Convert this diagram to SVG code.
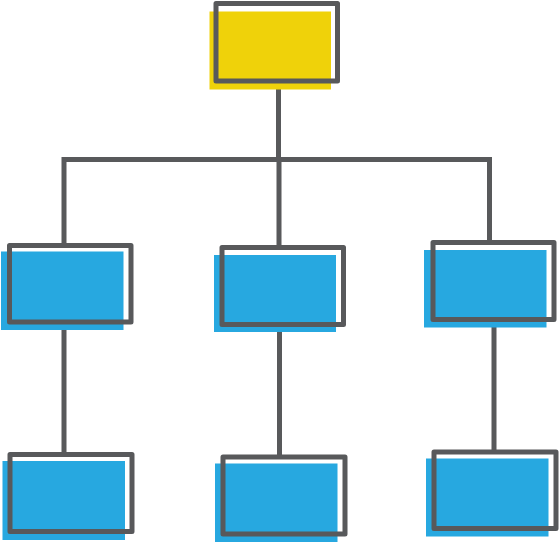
<svg xmlns="http://www.w3.org/2000/svg" width="559" height="542" viewBox="0 0 559 542">
<style>
.ln{stroke:#58595b;stroke-width:5;fill:none;stroke-linecap:butt;stroke-linejoin:round}
.o{fill:none;stroke:#58595b;stroke-width:5;stroke-linejoin:round}
.b{fill:#27a8e0}
.y{fill:#efd20a}
</style>
<rect width="559" height="542" fill="#ffffff"/>
<g id="connectors">
<path class="ln" d="M278.5 81V159.5M64 159.5H489.5M64 157V245M279 159.5V247.5M489.5 157V242.5"/>
<path class="ln" d="M64 322V454.5M279.5 324.5V457M494 319.5V452"/>
</g>
<g id="root">
<rect class="y" x="209.5" y="11.5" width="121.5" height="78"/>
<rect class="o" x="216" y="3.5" width="121.5" height="77.5"/>
</g>
<g id="mid-left">
<rect class="b" x="1" y="251.5" width="122.5" height="78.5"/>
<rect class="o" x="9.5" y="245.5" width="121.5" height="76.5"/>
</g>
<g id="mid-center">
<rect class="b" x="214" y="255" width="122" height="77"/>
<rect class="o" x="222" y="247.5" width="121.5" height="77"/>
</g>
<g id="mid-right">
<rect class="b" x="424" y="250" width="122.5" height="77.5"/>
<rect class="o" x="433" y="242.5" width="121" height="77"/>
</g>
<g id="bottom-left">
<rect class="b" x="2.5" y="461" width="122.5" height="79"/>
<rect class="o" x="10" y="454.5" width="122" height="77"/>
</g>
<g id="bottom-center">
<rect class="b" x="215" y="463.5" width="122.5" height="78.5"/>
<rect class="o" x="223" y="457" width="122" height="77"/>
</g>
<g id="bottom-right">
<rect class="b" x="426" y="458.5" width="122.5" height="78"/>
<rect class="o" x="434" y="452" width="122" height="76.5"/>
</g>
</svg>
